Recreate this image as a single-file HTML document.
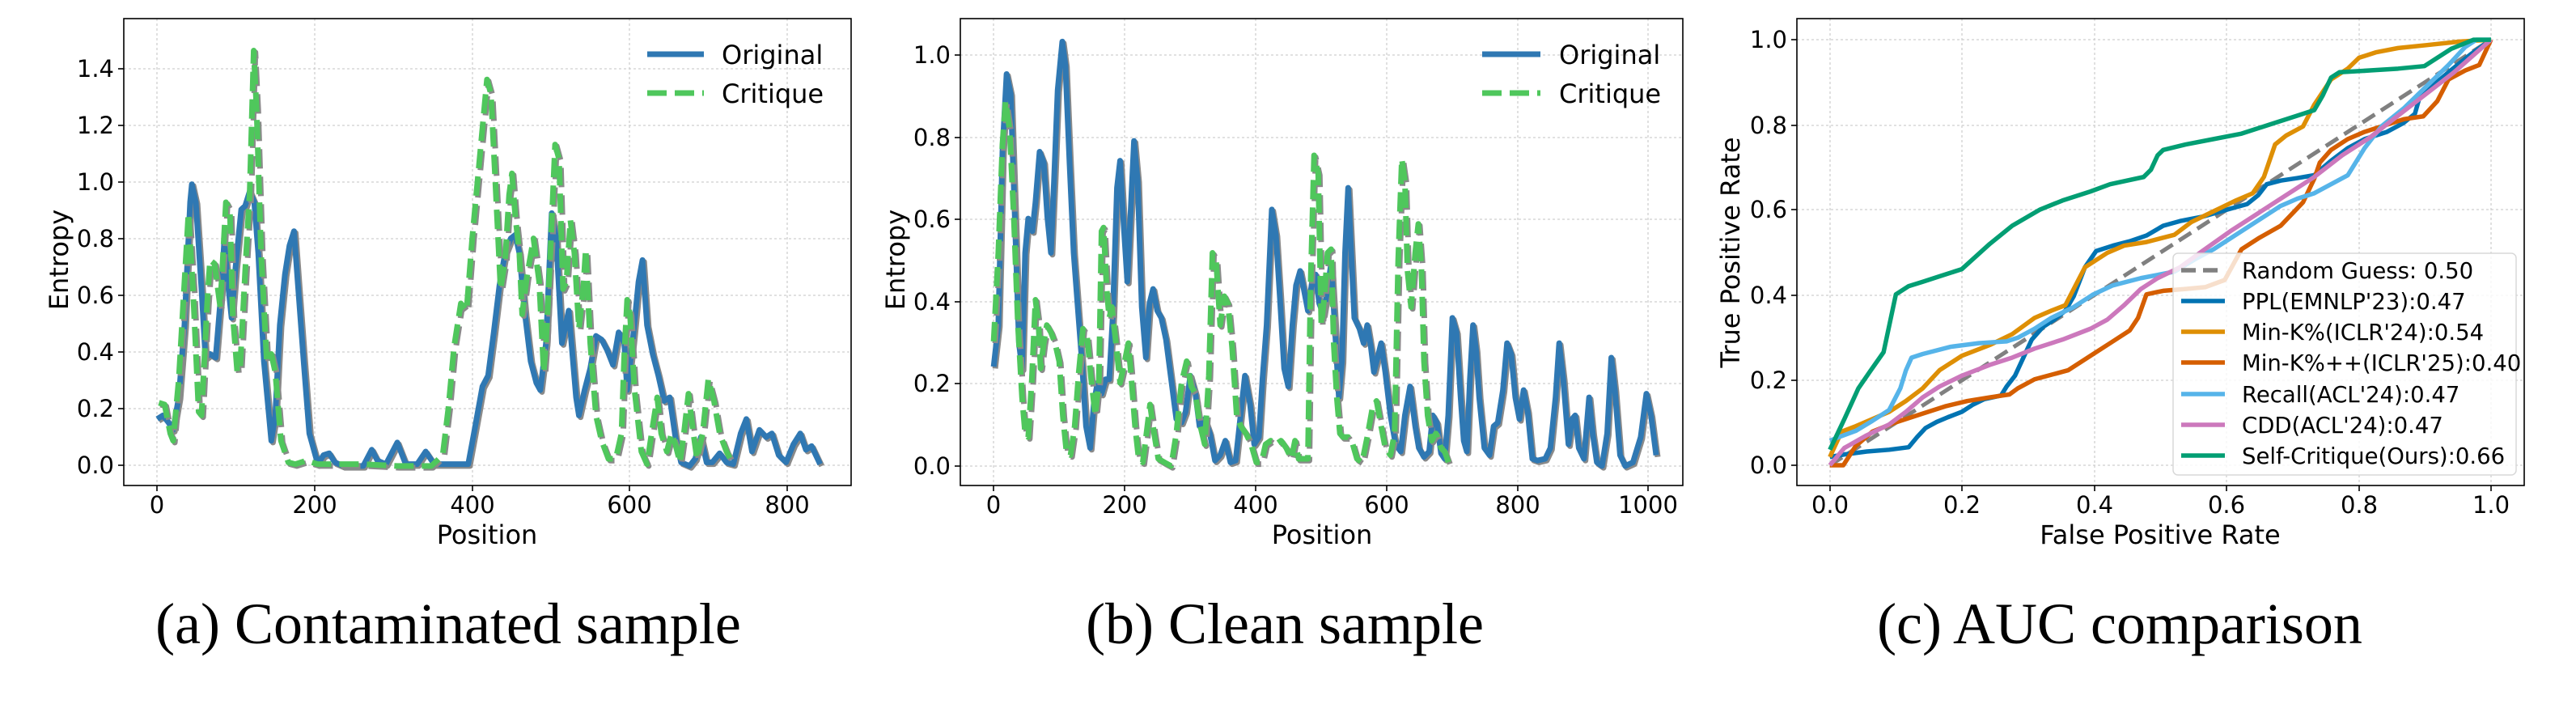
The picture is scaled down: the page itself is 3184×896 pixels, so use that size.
<!DOCTYPE html>
<html><head><meta charset="utf-8"><style>
html,body{margin:0;padding:0;background:#fff;}
svg{display:block;}
text{font-family:"DejaVu Sans","Liberation Sans",sans-serif;fill:#000;}
.cap text{font-family:"Liberation Serif",serif;font-size:72px;}
.tk{font-size:29px;}
.al{font-size:32px;}
.lg{font-size:32px;}
.lc{font-size:27.5px;}
.grid{stroke:#cfcfcf;stroke-width:1.3;stroke-dasharray:3,3;}
.ns{vector-effect:non-scaling-stroke;fill:none;stroke-linejoin:round;stroke-linecap:butt;}
</style></head><body>
<svg width="3184" height="896" viewBox="0 0 3184 896" xmlns="http://www.w3.org/2000/svg">
<rect width="3184" height="896" fill="#fff"/>

<!-- ============ PANEL A ============ -->
<g>
<g class="grid">
<line x1="194" y1="23" x2="194" y2="600"/><line x1="389" y1="23" x2="389" y2="600"/><line x1="584" y1="23" x2="584" y2="600"/><line x1="778" y1="23" x2="778" y2="600"/><line x1="973" y1="23" x2="973" y2="600"/>
<line x1="153" y1="575" x2="1052" y2="575"/><line x1="153" y1="505" x2="1052" y2="505"/><line x1="153" y1="435" x2="1052" y2="435"/><line x1="153" y1="365" x2="1052" y2="365"/><line x1="153" y1="295" x2="1052" y2="295"/><line x1="153" y1="225" x2="1052" y2="225"/><line x1="153" y1="155" x2="1052" y2="155"/><line x1="153" y1="85" x2="1052" y2="85"/>
</g>
<g transform="scale(0.70151,0.44643)">
<path class="ns" stroke="#8a8a8a" stroke-width="7" transform="translate(3,5)" d="M277,1160 L287,1150 L297,1170 L305,1190 L315,1100 L325,900 L335,560 L338,510 L345,560 L355,800 L362,990 L370,980 L380,990 L390,800 L395,670 L400,760 L408,880 L415,740 L425,580 L432,570 L440,530 L448,560 L455,700 L465,1000 L478,1220 L485,1150 L493,900 L502,760 L510,680 L518,640 L525,790 L535,1000 L545,1200 L560,1285 L570,1260 L580,1255 L590,1280 L605,1290 L640,1290 L655,1245 L665,1275 L680,1285 L700,1225 L715,1285 L735,1285 L750,1250 L765,1285 L825,1285 L835,1200 L850,1070 L860,1040 L870,920 L880,790 L890,700 L900,660 L908,650 L915,700 L925,870 L935,1000 L945,1060 L952,1080 L962,950 L972,590 L980,660 L990,950 L1002,860 L1015,1100 L1020,1150 L1030,1080 L1040,1020 L1050,930 L1060,940 L1070,970 L1080,1010 L1090,920 L1100,950 L1105,1080 L1115,940 L1125,780 L1132,720 L1140,900 L1150,980 L1160,1040 L1170,1110 L1180,1100 L1190,1210 L1200,1280 L1215,1290 L1225,1270 L1235,1210 L1245,1280 L1255,1280 L1268,1255 L1280,1280 L1292,1285 L1305,1200 L1315,1160 L1325,1250 L1338,1190 L1350,1210 L1360,1200 L1372,1260 L1385,1280 L1398,1230 L1410,1200 L1420,1245 L1430,1235 L1445,1285"/>
<path class="ns" stroke="#2f78b3" stroke-width="7" d="M277,1160 L287,1150 L297,1170 L305,1190 L315,1100 L325,900 L335,560 L338,510 L345,560 L355,800 L362,990 L370,980 L380,990 L390,800 L395,670 L400,760 L408,880 L415,740 L425,580 L432,570 L440,530 L448,560 L455,700 L465,1000 L478,1220 L485,1150 L493,900 L502,760 L510,680 L518,640 L525,790 L535,1000 L545,1200 L560,1285 L570,1260 L580,1255 L590,1280 L605,1290 L640,1290 L655,1245 L665,1275 L680,1285 L700,1225 L715,1285 L735,1285 L750,1250 L765,1285 L825,1285 L835,1200 L850,1070 L860,1040 L870,920 L880,790 L890,700 L900,660 L908,650 L915,700 L925,870 L935,1000 L945,1060 L952,1080 L962,950 L972,590 L980,660 L990,950 L1002,860 L1015,1100 L1020,1150 L1030,1080 L1040,1020 L1050,930 L1060,940 L1070,970 L1080,1010 L1090,920 L1100,950 L1105,1080 L1115,940 L1125,780 L1132,720 L1140,900 L1150,980 L1160,1040 L1170,1110 L1180,1100 L1190,1210 L1200,1280 L1215,1290 L1225,1270 L1235,1210 L1245,1280 L1255,1280 L1268,1255 L1280,1280 L1292,1285 L1305,1200 L1315,1160 L1325,1250 L1338,1190 L1350,1210 L1360,1200 L1372,1260 L1385,1280 L1398,1230 L1410,1200 L1420,1245 L1430,1235 L1445,1285"/>
<path class="ns" stroke="#8a8a8a" stroke-width="7" stroke-dasharray="24,10" transform="translate(3,5)" d="M280,1115 L290,1120 L300,1200 L305,1220 L315,1050 L328,700 L332,590 L340,800 L350,1140 L355,1150 L365,840 L370,720 L378,730 L388,850 L398,560 L405,580 L410,870 L418,1030 L423,1020 L432,750 L440,530 L447,140 L452,300 L460,700 L470,1000 L478,980 L485,1030 L495,1220 L508,1280 L520,1285 L540,1275 L560,1285 L600,1285 L640,1285 L700,1290 L760,1290 L780,1260 L790,1130 L800,960 L812,840 L822,860 L832,660 L845,440 L858,220 L865,260 L872,480 L882,800 L890,720 L897,540 L902,480 L908,600 L915,700 L920,870 L928,770 L940,660 L950,780 L958,1030 L962,950 L970,690 L978,400 L985,440 L992,800 L998,780 L1005,610 L1012,700 L1020,910 L1028,790 L1032,690 L1040,950 L1050,1150 L1060,1220 L1072,1270 L1085,1270 L1095,1200 L1100,980 L1105,830 L1110,870 L1118,1080 L1130,1250 L1140,1285 L1150,1180 L1158,1100 L1165,1200 L1175,1250 L1183,1200 L1190,1230 L1198,1280 L1205,1200 L1213,1090 L1220,1180 L1228,1270 L1238,1200 L1248,1050 L1258,1110 L1268,1200 L1280,1250 L1290,1280"/>
<path class="ns" stroke="#4fc75c" stroke-width="7" stroke-dasharray="24,10" d="M280,1115 L290,1120 L300,1200 L305,1220 L315,1050 L328,700 L332,590 L340,800 L350,1140 L355,1150 L365,840 L370,720 L378,730 L388,850 L398,560 L405,580 L410,870 L418,1030 L423,1020 L432,750 L440,530 L447,140 L452,300 L460,700 L470,1000 L478,980 L485,1030 L495,1220 L508,1280 L520,1285 L540,1275 L560,1285 L600,1285 L640,1285 L700,1290 L760,1290 L780,1260 L790,1130 L800,960 L812,840 L822,860 L832,660 L845,440 L858,220 L865,260 L872,480 L882,800 L890,720 L897,540 L902,480 L908,600 L915,700 L920,870 L928,770 L940,660 L950,780 L958,1030 L962,950 L970,690 L978,400 L985,440 L992,800 L998,780 L1005,610 L1012,700 L1020,910 L1028,790 L1032,690 L1040,950 L1050,1150 L1060,1220 L1072,1270 L1085,1270 L1095,1200 L1100,980 L1105,830 L1110,870 L1118,1080 L1130,1250 L1140,1285 L1150,1180 L1158,1100 L1165,1200 L1175,1250 L1183,1200 L1190,1230 L1198,1280 L1205,1200 L1213,1090 L1220,1180 L1228,1270 L1238,1200 L1248,1050 L1258,1110 L1268,1200 L1280,1250 L1290,1280"/>
</g>
<rect x="153" y="23" width="899" height="577" fill="none" stroke="#000" stroke-width="1.6"/>
<g stroke="#000" stroke-width="1.6">
<line x1="194" y1="600" x2="194" y2="607"/><line x1="389" y1="600" x2="389" y2="607"/><line x1="584" y1="600" x2="584" y2="607"/><line x1="778" y1="600" x2="778" y2="607"/><line x1="973" y1="600" x2="973" y2="607"/>
<line x1="146" y1="575" x2="153" y2="575"/><line x1="146" y1="505" x2="153" y2="505"/><line x1="146" y1="435" x2="153" y2="435"/><line x1="146" y1="365" x2="153" y2="365"/><line x1="146" y1="295" x2="153" y2="295"/><line x1="146" y1="225" x2="153" y2="225"/><line x1="146" y1="155" x2="153" y2="155"/><line x1="146" y1="85" x2="153" y2="85"/>
</g>
<g class="tk" text-anchor="middle">
<text x="194" y="634">0</text><text x="389" y="634">200</text><text x="584" y="634">400</text><text x="778" y="634">600</text><text x="973" y="634">800</text>
</g>
<g class="tk" text-anchor="end">
<text x="141" y="585">0.0</text><text x="141" y="515">0.2</text><text x="141" y="445">0.4</text><text x="141" y="375">0.6</text><text x="141" y="305">0.8</text><text x="141" y="235">1.0</text><text x="141" y="165">1.2</text><text x="141" y="95">1.4</text>
</g>
<text class="al" x="602" y="672" text-anchor="middle">Position</text>
<text class="al" transform="translate(84,321) rotate(-90)" text-anchor="middle">Entropy</text>
<line x1="800" y1="67" x2="870" y2="67" stroke="#2f78b3" stroke-width="7"/>
<line x1="800" y1="115" x2="870" y2="115" stroke="#4fc75c" stroke-width="7" stroke-dasharray="24,10"/>
<text class="lg" x="892" y="79">Original</text>
<text class="lg" x="892" y="127">Critique</text>
</g>

<!-- ============ PANEL B ============ -->
<g>
<g class="grid">
<line x1="1228" y1="23" x2="1228" y2="600"/><line x1="1390" y1="23" x2="1390" y2="600"/><line x1="1552" y1="23" x2="1552" y2="600"/><line x1="1714" y1="23" x2="1714" y2="600"/><line x1="1876" y1="23" x2="1876" y2="600"/><line x1="2037" y1="23" x2="2037" y2="600"/>
<line x1="1187" y1="576" x2="2080" y2="576"/><line x1="1187" y1="474" x2="2080" y2="474"/><line x1="1187" y1="373" x2="2080" y2="373"/><line x1="1187" y1="271" x2="2080" y2="271"/><line x1="1187" y1="170" x2="2080" y2="170"/><line x1="1187" y1="68" x2="2080" y2="68"/>
</g>
<g transform="translate(1100,0) scale(0.63776,0.44643)">
<path class="ns" stroke="#8a8a8a" stroke-width="7" transform="translate(3,5)" d="M201,1015 L210,900 L218,420 L226,205 L234,260 L242,600 L250,950 L256,1020 L262,700 L268,605 L276,640 L282,560 L290,420 L298,450 L305,600 L312,700 L318,500 L325,250 L334,115 L340,180 L348,450 L356,700 L365,870 L372,1000 L380,1180 L388,1240 L395,1120 L402,1060 L410,1090 L418,1050 L425,1050 L432,870 L440,520 L446,445 L452,600 L460,780 L466,600 L473,390 L480,500 L488,850 L496,990 L503,840 L510,800 L518,860 L526,880 L535,940 L545,1050 L555,1160 L565,1170 L573,1140 L582,1040 L592,1090 L600,1180 L610,1160 L620,1200 L630,1275 L640,1260 L650,1220 L660,1280 L670,1275 L678,1170 L688,1040 L698,1120 L706,1230 L715,1210 L722,1050 L730,900 L740,580 L748,650 L756,830 L764,1020 L772,1070 L780,900 L787,790 L795,750 L802,800 L810,860 L818,780 L825,760 L832,840 L840,870 L848,800 L855,730 L862,900 L870,1100 L876,1000 L882,700 L888,520 L894,700 L900,880 L910,910 L918,950 L925,900 L932,960 L938,1030 L945,990 L952,950 L960,1030 L970,1150 L980,1230 L990,1250 L998,1150 L1008,1070 L1018,1180 L1025,1240 L1035,1265 L1045,1250 L1052,1150 L1060,1170 L1068,1255 L1075,1270 L1082,1150 L1090,880 L1098,920 L1106,1100 L1112,1220 L1118,1250 L1124,1050 L1130,900 L1136,970 L1142,1100 L1152,1240 L1162,1260 L1170,1180 L1178,1170 L1188,1080 L1196,950 L1204,980 L1212,1100 L1220,1160 L1228,1080 L1236,1140 L1245,1270 L1255,1275 L1270,1270 L1280,1240 L1290,1100 L1297,950 L1305,1050 L1315,1230 L1322,1160 L1328,1150 L1335,1240 L1345,1270 L1355,1100 L1362,1200 L1370,1280 L1380,1290 L1390,1200 L1398,990 L1405,1080 L1415,1260 L1425,1290 L1440,1280 L1455,1210 L1466,1090 L1475,1150 L1485,1260"/>
<path class="ns" stroke="#2f78b3" stroke-width="7" d="M201,1015 L210,900 L218,420 L226,205 L234,260 L242,600 L250,950 L256,1020 L262,700 L268,605 L276,640 L282,560 L290,420 L298,450 L305,600 L312,700 L318,500 L325,250 L334,115 L340,180 L348,450 L356,700 L365,870 L372,1000 L380,1180 L388,1240 L395,1120 L402,1060 L410,1090 L418,1050 L425,1050 L432,870 L440,520 L446,445 L452,600 L460,780 L466,600 L473,390 L480,500 L488,850 L496,990 L503,840 L510,800 L518,860 L526,880 L535,940 L545,1050 L555,1160 L565,1170 L573,1140 L582,1040 L592,1090 L600,1180 L610,1160 L620,1200 L630,1275 L640,1260 L650,1220 L660,1280 L670,1275 L678,1170 L688,1040 L698,1120 L706,1230 L715,1210 L722,1050 L730,900 L740,580 L748,650 L756,830 L764,1020 L772,1070 L780,900 L787,790 L795,750 L802,800 L810,860 L818,780 L825,760 L832,840 L840,870 L848,800 L855,730 L862,900 L870,1100 L876,1000 L882,700 L888,520 L894,700 L900,880 L910,910 L918,950 L925,900 L932,960 L938,1030 L945,990 L952,950 L960,1030 L970,1150 L980,1230 L990,1250 L998,1150 L1008,1070 L1018,1180 L1025,1240 L1035,1265 L1045,1250 L1052,1150 L1060,1170 L1068,1255 L1075,1270 L1082,1150 L1090,880 L1098,920 L1106,1100 L1112,1220 L1118,1250 L1124,1050 L1130,900 L1136,970 L1142,1100 L1152,1240 L1162,1260 L1170,1180 L1178,1170 L1188,1080 L1196,950 L1204,980 L1212,1100 L1220,1160 L1228,1080 L1236,1140 L1245,1270 L1255,1275 L1270,1270 L1280,1240 L1290,1100 L1297,950 L1305,1050 L1315,1230 L1322,1160 L1328,1150 L1335,1240 L1345,1270 L1355,1100 L1362,1200 L1370,1280 L1380,1290 L1390,1200 L1398,990 L1405,1080 L1415,1260 L1425,1290 L1440,1280 L1455,1210 L1466,1090 L1475,1150 L1485,1260"/>
<path class="ns" stroke="#8a8a8a" stroke-width="7" stroke-dasharray="24,10" transform="translate(3,5)" d="M201,945 L210,700 L218,400 L224,280 L232,360 L240,600 L248,900 L256,1100 L262,1200 L268,1210 L275,1050 L282,830 L288,900 L292,1020 L298,950 L304,900 L312,920 L320,950 L328,1000 L335,1150 L342,1250 L350,1260 L358,1180 L366,1030 L374,910 L382,930 L390,1050 L398,1150 L405,1050 L410,640 L414,630 L420,800 L425,880 L430,850 L438,950 L446,1060 L455,1000 L462,950 L468,1050 L475,1180 L482,1270 L490,1280 L498,1190 L504,1120 L512,1200 L520,1270 L532,1280 L545,1290 L555,1200 L565,1060 L575,1000 L584,1070 L592,1090 L600,1170 L610,1230 L618,1040 L625,700 L632,720 L640,900 L648,820 L655,840 L663,960 L672,1150 L680,1180 L690,1200 L700,1230 L710,1280 L720,1280 L728,1230 L738,1220 L748,1230 L758,1220 L768,1240 L778,1270 L785,1220 L792,1270 L800,1270 L810,1270 L815,800 L822,430 L830,480 L836,900 L842,820 L848,700 L855,690 L860,950 L866,1100 L872,1200 L878,1210 L888,1210 L897,1230 L905,1270 L915,1280 L925,1210 L935,1130 L943,1110 L952,1180 L960,1240 L970,1260 L978,1200 L985,720 L992,440 L998,500 L1003,750 L1010,850 L1018,700 L1024,620 L1030,740 L1035,1000 L1042,1150 L1050,1220 L1058,1200 L1068,1240 L1075,1250 L1085,1290"/>
<path class="ns" stroke="#4fc75c" stroke-width="7" stroke-dasharray="24,10" d="M201,945 L210,700 L218,400 L224,280 L232,360 L240,600 L248,900 L256,1100 L262,1200 L268,1210 L275,1050 L282,830 L288,900 L292,1020 L298,950 L304,900 L312,920 L320,950 L328,1000 L335,1150 L342,1250 L350,1260 L358,1180 L366,1030 L374,910 L382,930 L390,1050 L398,1150 L405,1050 L410,640 L414,630 L420,800 L425,880 L430,850 L438,950 L446,1060 L455,1000 L462,950 L468,1050 L475,1180 L482,1270 L490,1280 L498,1190 L504,1120 L512,1200 L520,1270 L532,1280 L545,1290 L555,1200 L565,1060 L575,1000 L584,1070 L592,1090 L600,1170 L610,1230 L618,1040 L625,700 L632,720 L640,900 L648,820 L655,840 L663,960 L672,1150 L680,1180 L690,1200 L700,1230 L710,1280 L720,1280 L728,1230 L738,1220 L748,1230 L758,1220 L768,1240 L778,1270 L785,1220 L792,1270 L800,1270 L810,1270 L815,800 L822,430 L830,480 L836,900 L842,820 L848,700 L855,690 L860,950 L866,1100 L872,1200 L878,1210 L888,1210 L897,1230 L905,1270 L915,1280 L925,1210 L935,1130 L943,1110 L952,1180 L960,1240 L970,1260 L978,1200 L985,720 L992,440 L998,500 L1003,750 L1010,850 L1018,700 L1024,620 L1030,740 L1035,1000 L1042,1150 L1050,1220 L1058,1200 L1068,1240 L1075,1250 L1085,1290"/>
</g>
<rect x="1187" y="23" width="893" height="577" fill="none" stroke="#000" stroke-width="1.6"/>
<g stroke="#000" stroke-width="1.6">
<line x1="1228" y1="600" x2="1228" y2="607"/><line x1="1390" y1="600" x2="1390" y2="607"/><line x1="1552" y1="600" x2="1552" y2="607"/><line x1="1714" y1="600" x2="1714" y2="607"/><line x1="1876" y1="600" x2="1876" y2="607"/><line x1="2037" y1="600" x2="2037" y2="607"/>
<line x1="1180" y1="576" x2="1187" y2="576"/><line x1="1180" y1="474" x2="1187" y2="474"/><line x1="1180" y1="373" x2="1187" y2="373"/><line x1="1180" y1="271" x2="1187" y2="271"/><line x1="1180" y1="170" x2="1187" y2="170"/><line x1="1180" y1="68" x2="1187" y2="68"/>
</g>
<g class="tk" text-anchor="middle">
<text x="1228" y="634">0</text><text x="1390" y="634">200</text><text x="1552" y="634">400</text><text x="1714" y="634">600</text><text x="1876" y="634">800</text><text x="2037" y="634">1000</text>
</g>
<g class="tk" text-anchor="end">
<text x="1175" y="586">0.0</text><text x="1175" y="484">0.2</text><text x="1175" y="383">0.4</text><text x="1175" y="281">0.6</text><text x="1175" y="180">0.8</text><text x="1175" y="78">1.0</text>
</g>
<text class="al" x="1634" y="672" text-anchor="middle">Position</text>
<text class="al" transform="translate(1118,321) rotate(-90)" text-anchor="middle">Entropy</text>
<line x1="1832" y1="67" x2="1904" y2="67" stroke="#2f78b3" stroke-width="7"/>
<line x1="1832" y1="115" x2="1904" y2="115" stroke="#4fc75c" stroke-width="7" stroke-dasharray="24,10"/>
<text class="lg" x="1927" y="79">Original</text>
<text class="lg" x="1927" y="127">Critique</text>
</g>

<!-- ============ PANEL C ============ -->
<g>
<g class="grid">
<line x1="2262" y1="23" x2="2262" y2="600"/><line x1="2425" y1="23" x2="2425" y2="600"/><line x1="2589" y1="23" x2="2589" y2="600"/><line x1="2752" y1="23" x2="2752" y2="600"/><line x1="2916" y1="23" x2="2916" y2="600"/><line x1="3079" y1="23" x2="3079" y2="600"/>
<line x1="2221" y1="575" x2="3120" y2="575"/><line x1="2221" y1="470" x2="3120" y2="470"/><line x1="2221" y1="365" x2="3120" y2="365"/><line x1="2221" y1="259" x2="3120" y2="259"/><line x1="2221" y1="155" x2="3120" y2="155"/><line x1="2221" y1="49" x2="3120" y2="49"/>
</g>
<g transform="translate(2100,0) scale(0.69132,0.44643)">
<path class="ns" stroke="#808080" stroke-width="5" stroke-dasharray="18,9" d="M234,1288 L1416,110"/>
<path class="ns" stroke="#0173b2" stroke-width="5.5" d="M234,1265 L260,1258 L300,1250 L340,1245 L375,1238 L390,1210 L405,1185 L425,1168 L445,1155 L470,1140 L490,1120 L510,1105 L540,1095 L550,1070 L565,1040 L580,990 L595,940 L615,905 L635,885 L655,860 L670,820 L690,740 L710,695 L740,680 L770,668 L800,652 L830,625 L860,612 L900,600 L940,582 L980,565 L1000,540 L1015,510 L1040,500 L1070,493 L1100,485 L1130,445 L1160,410 L1190,385 L1230,365 L1260,340 L1280,315 L1290,260 L1310,240 L1340,200 L1380,150 L1416,110"/>
<path class="ns" stroke="#de8f05" stroke-width="5.5" d="M234,1265 L255,1195 L280,1180 L310,1160 L340,1140 L370,1110 L400,1075 L430,1025 L470,985 L520,955 L560,925 L600,880 L630,860 L655,845 L670,800 L690,740 L730,700 L760,680 L800,670 L850,650 L880,615 L920,585 L960,555 L990,535 L1010,490 L1030,400 L1050,375 L1080,350 L1100,290 L1130,220 L1160,190 L1180,160 L1210,145 L1250,133 L1300,125 L1360,115 L1416,110"/>
<path class="ns" stroke="#d55e00" stroke-width="5.5" d="M234,1288 L258,1288 L280,1235 L310,1195 L350,1170 L400,1145 L440,1125 L480,1110 L520,1100 L555,1092 L570,1075 L600,1050 L660,1025 L700,985 L740,945 L770,915 L785,880 L800,815 L830,805 L870,800 L905,795 L940,775 L970,690 L1000,660 L1040,625 L1080,560 L1100,495 L1110,450 L1130,415 L1160,385 L1190,365 L1220,350 L1260,330 L1295,322 L1320,280 L1340,220 L1370,195 L1395,180 L1416,110"/>
<path class="ns" stroke="#56b4e9" stroke-width="5.5" d="M234,1220 L250,1210 L280,1193 L310,1165 L340,1135 L360,1075 L370,1025 L380,990 L400,980 L450,960 L500,950 L550,945 L570,935 L600,910 L630,880 L670,850 L705,815 L740,790 L790,770 L850,752 L890,715 L920,690 L960,650 L1000,610 L1040,570 L1070,550 L1100,535 L1130,510 L1160,485 L1190,410 L1220,350 L1260,300 L1300,240 L1340,180 L1370,130 L1390,110 L1416,110"/>
<path class="ns" stroke="#cc78bc" stroke-width="5.5" d="M234,1288 L260,1240 L300,1205 L340,1175 L370,1140 L400,1100 L430,1070 L470,1040 L520,1010 L560,990 L600,965 L650,940 L700,910 L730,885 L760,845 L790,800 L820,770 L860,740 L900,695 L950,640 L1000,590 L1050,540 L1100,490 L1150,430 L1200,380 L1250,320 L1300,260 L1350,200 L1416,110"/>
<path class="ns" stroke="#029e73" stroke-width="5.5" d="M234,1245 L260,1160 L285,1075 L305,1030 L330,975 L352,815 L375,792 L400,780 L430,765 L470,745 L495,710 L520,675 L560,625 L610,580 L650,555 L700,530 L735,510 L795,490 L808,470 L820,430 L830,415 L870,400 L920,385 L970,370 L1020,345 L1070,320 L1100,305 L1115,265 L1130,215 L1145,200 L1200,195 L1250,190 L1297,183 L1320,160 L1345,135 L1385,110 L1416,110"/>
</g>
<rect x="2686" y="313" width="424" height="274" rx="6" fill="#fff" fill-opacity="0.8" stroke="#d8d8d8" stroke-width="1.5"/>
<rect x="2221" y="23" width="899" height="577" fill="none" stroke="#000" stroke-width="1.6"/>
<g stroke="#000" stroke-width="1.6">
<line x1="2262" y1="600" x2="2262" y2="607"/><line x1="2425" y1="600" x2="2425" y2="607"/><line x1="2589" y1="600" x2="2589" y2="607"/><line x1="2752" y1="600" x2="2752" y2="607"/><line x1="2916" y1="600" x2="2916" y2="607"/><line x1="3079" y1="600" x2="3079" y2="607"/>
<line x1="2214" y1="575" x2="2221" y2="575"/><line x1="2214" y1="470" x2="2221" y2="470"/><line x1="2214" y1="365" x2="2221" y2="365"/><line x1="2214" y1="259" x2="2221" y2="259"/><line x1="2214" y1="155" x2="2221" y2="155"/><line x1="2214" y1="49" x2="2221" y2="49"/>
</g>
<g class="tk" text-anchor="middle">
<text x="2262" y="634">0.0</text><text x="2425" y="634">0.2</text><text x="2589" y="634">0.4</text><text x="2752" y="634">0.6</text><text x="2916" y="634">0.8</text><text x="3079" y="634">1.0</text>
</g>
<g class="tk" text-anchor="end">
<text x="2209" y="585">0.0</text><text x="2209" y="480">0.2</text><text x="2209" y="375">0.4</text><text x="2209" y="269">0.6</text><text x="2209" y="165">0.8</text><text x="2209" y="59">1.0</text>
</g>
<text class="al" x="2670" y="672" text-anchor="middle">False Positive Rate</text>
<text class="al" transform="translate(2150,312) rotate(-90)" text-anchor="middle">True Positive Rate</text>
<g stroke-width="5.5">
<line x1="2696" y1="334" x2="2750" y2="334" stroke="#808080" stroke-dasharray="18,9"/>
<line x1="2696" y1="372" x2="2750" y2="372" stroke="#0173b2"/>
<line x1="2696" y1="410" x2="2750" y2="410" stroke="#de8f05"/>
<line x1="2696" y1="448" x2="2750" y2="448" stroke="#d55e00"/>
<line x1="2696" y1="487" x2="2750" y2="487" stroke="#56b4e9"/>
<line x1="2696" y1="525" x2="2750" y2="525" stroke="#cc78bc"/>
<line x1="2696" y1="563" x2="2750" y2="563" stroke="#029e73"/>
</g>
<g class="lc">
<text x="2771" y="344">Random Guess: 0.50</text>
<text x="2771" y="382">PPL(EMNLP'23):0.47</text>
<text x="2771" y="420">Min-K%(ICLR'24):0.54</text>
<text x="2771" y="458">Min-K%++(ICLR'25):0.40</text>
<text x="2771" y="497">Recall(ACL'24):0.47</text>
<text x="2771" y="535">CDD(ACL'24):0.47</text>
<text x="2771" y="573">Self-Critique(Ours):0.66</text>
</g>
</g>

<!-- captions -->
<g class="cap" text-anchor="middle">
<text x="554" y="795">(a) Contaminated sample</text>
<text x="1588" y="795">(b) Clean sample</text>
<text x="2620" y="795">(c) AUC comparison</text>
</g>
</svg>
</body></html>
